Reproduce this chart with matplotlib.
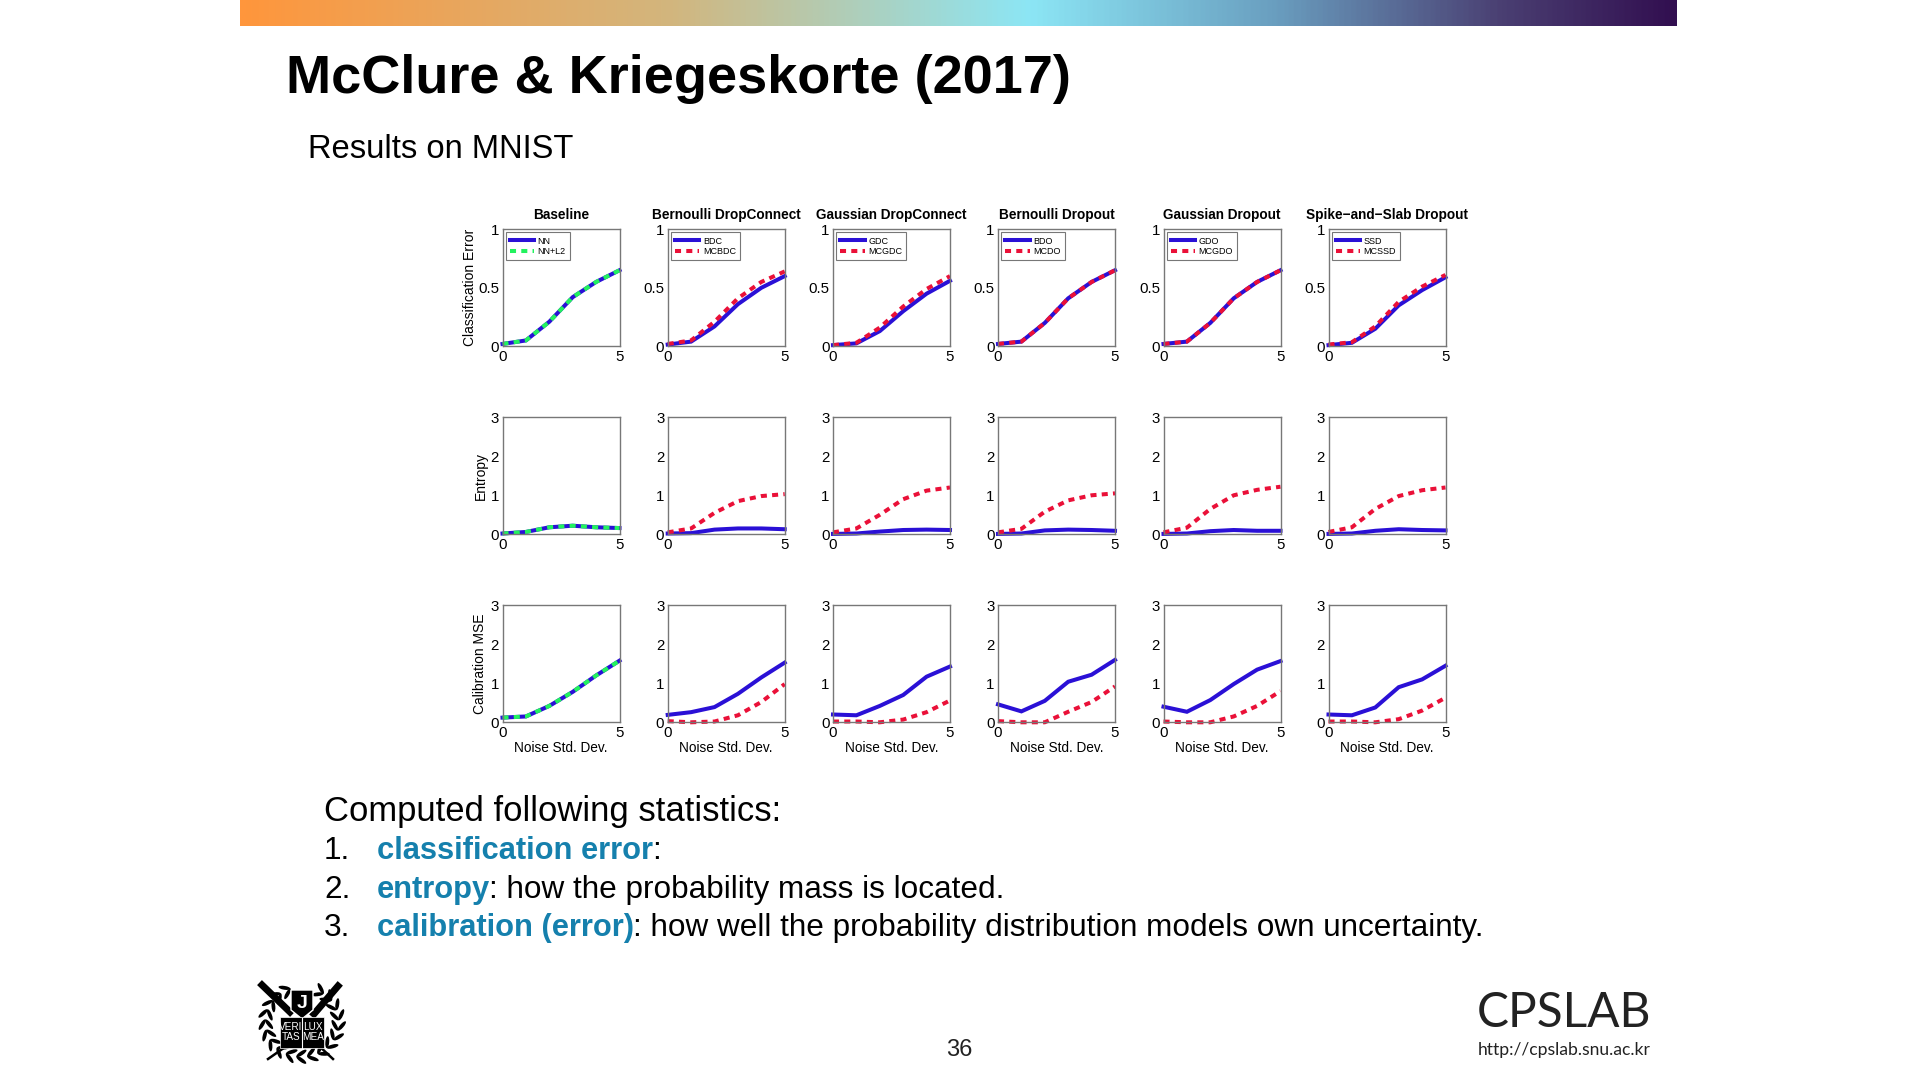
import numpy as np
import matplotlib
matplotlib.use("Agg")
import matplotlib.pyplot as plt
from matplotlib.colors import LinearSegmentedColormap
from matplotlib.patches import Ellipse, Polygon, Rectangle

plt.rcParams["font.family"] = ["Liberation Sans", "DejaVu Sans"]

W, H = 1920, 1080

noise = [0, 1, 2, 3, 4, 5]

titles = ["Baseline", "Bernoulli DropConnect", "Gaussian DropConnect",
          "Bernoulli Dropout", "Gaussian Dropout", "Spike\u2212and\u2212Slab Dropout"]
solid_names = ["NN", "BDC", "GDC", "BDO", "GDO", "SSD"]
dash_names = ["NN+L2", "MCBDC", "MCGDC", "MCDO", "MCGDO", "MCSSD"]

row_labels = ["Classification Error", "Entropy", "Calibration MSE"]
row_ylim = [1, 3, 3]
row_ticks = [[0, 0.5, 1], [0, 1, 2, 3], [0, 1, 2, 3]]
row_ticklabels = [["0", "0.5", "1"], ["0", "1", "2", "3"], ["0", "1", "2", "3"]]

# classification error
err_solid = [
    [0.02, 0.05, 0.21, 0.42, 0.55, 0.65],
    [0.015, 0.04, 0.17, 0.36, 0.50, 0.60],
    [0.01, 0.025, 0.13, 0.30, 0.45, 0.56],
    [0.02, 0.04, 0.20, 0.41, 0.55, 0.65],
    [0.02, 0.04, 0.20, 0.41, 0.55, 0.65],
    [0.01, 0.03, 0.15, 0.35, 0.48, 0.59],
]
err_dash = [
    [0.02, 0.05, 0.21, 0.42, 0.55, 0.65],
    [0.02, 0.05, 0.21, 0.41, 0.55, 0.64],
    [0.01, 0.03, 0.16, 0.34, 0.49, 0.60],
    [0.02, 0.04, 0.20, 0.41, 0.55, 0.65],
    [0.02, 0.04, 0.20, 0.41, 0.55, 0.65],
    [0.015, 0.035, 0.17, 0.38, 0.51, 0.61],
]

# entropy
ent_solid = [
    [0.02, 0.06, 0.18, 0.22, 0.18, 0.16],
    [0.02, 0.03, 0.12, 0.15, 0.15, 0.13],
    [0.01, 0.02, 0.07, 0.11, 0.12, 0.11],
    [0.01, 0.02, 0.10, 0.12, 0.11, 0.09],
    [0.01, 0.02, 0.08, 0.11, 0.09, 0.09],
    [0.01, 0.02, 0.09, 0.13, 0.11, 0.10],
]
ent_dash = [
    [0.02, 0.06, 0.18, 0.22, 0.18, 0.16],
    [0.05, 0.15, 0.55, 0.85, 0.98, 1.03],
    [0.05, 0.15, 0.50, 0.90, 1.12, 1.20],
    [0.05, 0.14, 0.58, 0.87, 1.00, 1.05],
    [0.05, 0.17, 0.65, 1.00, 1.14, 1.22],
    [0.06, 0.18, 0.65, 0.98, 1.13, 1.20],
]

# calibration mse
cal_solid = [
    [0.12, 0.15, 0.42, 0.78, 1.20, 1.58],
    [0.19, 0.26, 0.39, 0.73, 1.15, 1.53],
    [0.20, 0.18, 0.42, 0.70, 1.17, 1.43],
    [0.46, 0.28, 0.55, 1.04, 1.22, 1.60],
    [0.40, 0.27, 0.57, 0.98, 1.35, 1.57],
    [0.20, 0.18, 0.38, 0.90, 1.10, 1.45],
]
cal_dash = [
    [0.12, 0.15, 0.42, 0.78, 1.20, 1.58],
    [0.03, 0.00, 0.02, 0.18, 0.52, 0.98],
    [0.02, 0.02, 0.00, 0.07, 0.26, 0.56],
    [0.03, 0.00, 0.00, 0.27, 0.52, 0.92],
    [0.02, 0.00, 0.00, 0.15, 0.42, 0.80],
    [0.02, 0.02, 0.00, 0.08, 0.30, 0.63],
]

solid_rows = [err_solid, ent_solid, cal_solid]
dash_rows = [err_dash, ent_dash, cal_dash]

# panel edges in pixels
col_left = [502.5, 667.7, 833, 998, 1163.5, 1328.5]
col_width = 117
row_top = [229.3, 417.3, 605.3]
row_height = 117
label_gap = [33, 22, 22]

BLUE = "#2a10d6"
RED = "#ea1038"
GREEN = "#22f25e"
SPINE = "#777777"
TEAL = "#1580ad"

fig = plt.figure(figsize=(W / 100, H / 100), dpi=100, facecolor="white")

# slide layer, y runs downward in pixels
bg = fig.add_axes([0, 0, 1, 1])
bg.set_xlim(0, W)
bg.set_ylim(H, 0)
bg.axis("off")

band = LinearSegmentedColormap.from_list(
    "band",
    [(0.0, "#ff963c"), (0.30, "#d2b67e"), (0.55, "#8ce6f5"),
     (0.72, "#6a9fc0"), (0.88, "#4a3f72"), (1.0, "#320f50")])
bg.imshow(np.linspace(0, 1, 600)[None, :], cmap=band, aspect="auto",
          extent=[240, 1677, 26, 0])
bg.set_xlim(0, W)
bg.set_ylim(H, 0)

bg.text(286, 79, "McClure & Kriegeskorte (2017)", fontsize=39, weight="bold",
        va="center", ha="left", color="black")
bg.text(308, 150, "Results on MNIST", fontsize=23.6, va="center", ha="left")
bg.text(324, 812, "Computed following statistics:", fontsize=24.9, va="center", ha="left")


def rich_line(y, num, strong, rest):
    bg.text(324, y, num, fontsize=22.7, va="center", ha="left")
    t = bg.text(377, y, strong, fontsize=22.2, weight="bold", color=TEAL,
                va="center", ha="left")
    fig.canvas.draw()
    x1 = t.get_window_extent().x1
    bg.text(x1 - 1, y, rest, fontsize=22.7, va="center", ha="left")


rich_line(851, "1.", "classification error", ":")
rich_line(890, "2.", "entropy", ": how the probability mass is located.")
rich_line(928, "3.", "calibration (error)",
          ": how well the probability distribution models own uncertainty.")

bg.text(959, 1050, "36", fontsize=17, va="center", ha="center", color="#222222")

# cpslab logo
bg.text(1564, 1013, "CPSLAB", fontsize=34.5, family="Lato", va="center", ha="center",
        color="#222222")
bg.text(1564, 1050, "http://cpslab.snu.ac.kr", fontsize=12.6, family="Lato",
        va="center", ha="center", color="#222222")

# university crest, rough shape only
cx, cy = 302, 1022
for radius, tilt in [(33, 55), (40, 125)]:
    for ang in np.arange(-62, 245, 17):
        a = np.deg2rad(ang)
        bg.add_patch(Ellipse((cx + radius * np.cos(a), cy + radius * 0.95 * np.sin(a)),
                             12, 3.8, angle=ang + tilt, color="black", lw=0))
bg.plot([262, 290], [985, 1012], color="black", lw=5, zorder=2)
bg.plot([338, 314], [986, 1014], color="black", lw=5, zorder=2)
bg.plot([268, 288], [1059, 1045], color="black", lw=1.8, zorder=2)
bg.plot([333, 318], [1059, 1045], color="black", lw=1.8, zorder=2)
bg.add_patch(Polygon([[291, 990], [313, 990], [313, 1010], [302, 1019], [291, 1010]],
                     closed=True, fc="black", ec="white", lw=1, zorder=3))
bg.text(302, 1003, "J", color="white", fontsize=14, weight="bold",
        ha="center", va="center", zorder=4)
bg.add_patch(Rectangle((280, 1017), 44, 31, fc="black", ec="white", lw=0.5, zorder=3))
bg.plot([302, 302], [1018, 1048], color="white", lw=0.8, zorder=4)
for tx, ty, s in [(291, 1027, "VERI"), (313, 1027, "LUX"),
                  (291, 1037, "TAS"), (313, 1037, "MEA")]:
    bg.text(tx, ty, s, color="white", fontsize=7.2, ha="center", va="center", zorder=4)

# panel grid
for r in range(3):
    for c in range(6):
        left = col_left[c] / W
        bottom = 1 - (row_top[r] + row_height) / H
        ax = fig.add_axes([left, bottom, col_width / W, row_height / H])
        dash_color = GREEN if c == 0 else RED

        ax.plot(noise, solid_rows[r][c], color=BLUE, lw=2.9,
                solid_joinstyle="miter", label=solid_names[c], clip_on=False)
        ax.plot(noise, dash_rows[r][c], color=dash_color, lw=2.9,
                dashes=(1.5, 1.3), label=dash_names[c], clip_on=False)

        ax.set_xlim(0, 5)
        ax.set_ylim(0, row_ylim[r])
        ax.set_xticks([0, 5])
        ax.set_xticklabels(["0", "5"])
        ax.set_yticks(row_ticks[r])
        ax.set_yticklabels(row_ticklabels[r])
        ax.tick_params(axis="y", length=0, labelsize=10.8, pad=2.5)
        ax.tick_params(axis="x", length=0, labelsize=10.8, pad=3)
        for s in ax.spines.values():
            s.set_color(SPINE)
            s.set_linewidth(1.0)

        if c == 0:
            ax.set_ylabel(row_labels[r], fontsize=10, va="center")
            ax.yaxis.set_label_coords(-label_gap[r] / col_width, 0.5)
        if r == 0:
            ax.set_title(titles[c], fontsize=9.8, weight="bold", pad=7.5)
            leg = ax.legend(loc="upper left", fontsize=6.5, fancybox=False,
                            framealpha=1, edgecolor=SPINE, handlelength=2.7,
                            handletextpad=0.4, borderpad=0.45, labelspacing=0.2,
                            borderaxespad=0.35)
            leg.get_frame().set_linewidth(0.8)
        if r == 2:
            ax.set_xlabel("Noise Std. Dev.", fontsize=9.8, labelpad=0.5)

fig.savefig("out.png", dpi=100)
